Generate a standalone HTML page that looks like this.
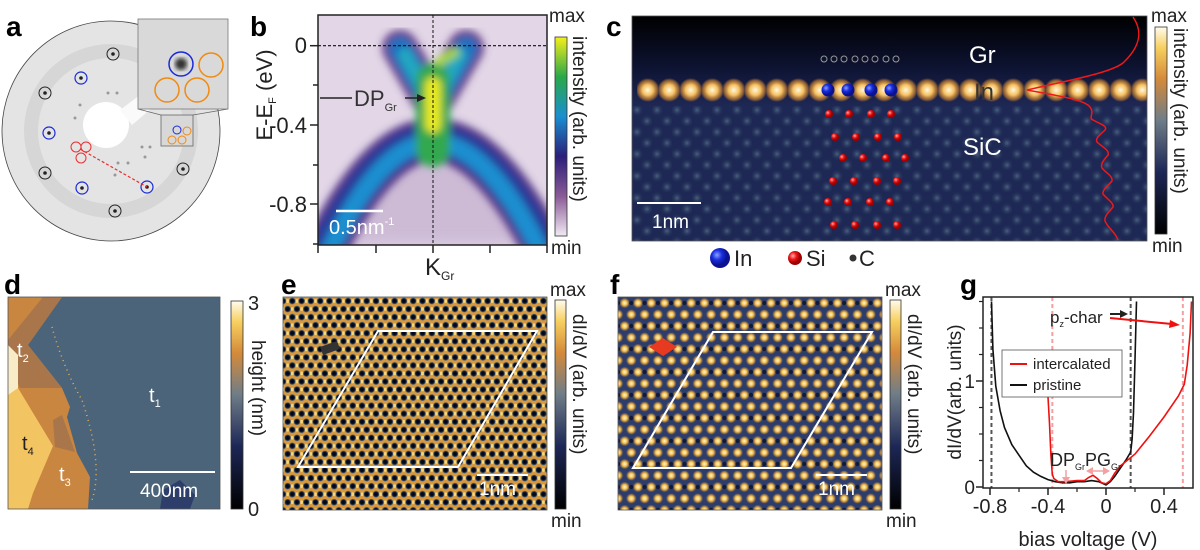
<!DOCTYPE html>
<html><head><meta charset="utf-8"><style>
body{margin:0;background:#fff;}
svg{display:block;font-family:"Liberation Sans",Arial,sans-serif;}
</style></head><body>
<svg id="fig" width="1200" height="550" viewBox="0 0 1200 550">
<defs>
<filter id="blur2"><feGaussianBlur stdDeviation="2"/></filter>
<filter id="blur4"><feGaussianBlur stdDeviation="4"/></filter>
<filter id="blur7"><feGaussianBlur stdDeviation="7"/></filter>
<linearGradient id="cbB" x1="0" y1="1" x2="0" y2="0">
<stop offset="0" stop-color="#f1eaf3"/><stop offset="0.2" stop-color="#8a5a97"/><stop offset="0.4" stop-color="#2a1f7a"/><stop offset="0.6" stop-color="#1a8fd0"/><stop offset="0.8" stop-color="#2aa84a"/><stop offset="1" stop-color="#f5ef1a"/></linearGradient>
<linearGradient id="cbC" x1="0" y1="1" x2="0" y2="0">
<stop offset="0" stop-color="#000"/><stop offset="0.3" stop-color="#1d2756"/><stop offset="0.55" stop-color="#6f7d88"/><stop offset="0.75" stop-color="#d48a3a"/><stop offset="0.9" stop-color="#f7d060"/><stop offset="1" stop-color="#fffbee"/></linearGradient>
<radialGradient id="bead"><stop offset="0" stop-color="#fff8e0"/><stop offset="0.45" stop-color="#f5c060"/><stop offset="0.8" stop-color="#c07a30" stop-opacity="0.7"/><stop offset="1" stop-color="#c07a30" stop-opacity="0"/></radialGradient>
<radialGradient id="blueS" cx="0.35" cy="0.35"><stop offset="0" stop-color="#8aa0ff"/><stop offset="0.5" stop-color="#1a2ee0"/><stop offset="1" stop-color="#0a1290"/></radialGradient>
<radialGradient id="redS" cx="0.35" cy="0.35"><stop offset="0" stop-color="#ffb0b0"/><stop offset="0.5" stop-color="#f01a1a"/><stop offset="1" stop-color="#a00000"/></radialGradient>
<radialGradient id="hole"><stop offset="0" stop-color="#000"/><stop offset="0.55" stop-color="#0a0f2a"/><stop offset="0.8" stop-color="#3a5670"/><stop offset="1" stop-color="#3a5670" stop-opacity="0"/></radialGradient>
<radialGradient id="spot"><stop offset="0" stop-color="#fff6d0"/><stop offset="0.45" stop-color="#f3c050"/><stop offset="0.8" stop-color="#b07a38" stop-opacity="0.6"/><stop offset="1" stop-color="#2a3a6a" stop-opacity="0"/></radialGradient>
<radialGradient id="sicBlob"><stop offset="0" stop-color="#4a6280"/><stop offset="1" stop-color="#1c2552" stop-opacity="0"/></radialGradient>
<pattern id="patE" width="9.3" height="16.1" patternUnits="userSpaceOnUse" x="283" y="297">
<rect width="9.3" height="16.1" fill="#d8983e"/>
<circle cx="4.65" cy="4" r="1.8" fill="#f8d878"/>
<circle cx="0" cy="12" r="1.8" fill="#f8d878"/><circle cx="9.3" cy="12" r="1.8" fill="#f8d878"/>
<circle cx="0" cy="4" r="3.6" fill="url(#hole)"/><circle cx="9.3" cy="4" r="3.6" fill="url(#hole)"/>
<circle cx="4.65" cy="12.05" r="3.6" fill="url(#hole)"/>
</pattern>
<pattern id="patF" width="13.3" height="23" patternUnits="userSpaceOnUse" x="618" y="297">
<rect width="13.3" height="23" fill="#2c3d6c"/>
<circle cx="6.65" cy="6" r="5.5" fill="url(#spot)"/>
<circle cx="0" cy="17.5" r="5.5" fill="url(#spot)"/><circle cx="13.3" cy="17.5" r="5.5" fill="url(#spot)"/>
<circle cx="0" cy="6" r="2.2" fill="#111a38"/><circle cx="13.3" cy="6" r="2.2" fill="#111a38"/>
</pattern>
<pattern id="patC" width="20" height="22" patternUnits="userSpaceOnUse" x="632" y="104">
<rect width="20" height="22" fill="#1e2854"/>
<circle cx="5" cy="6" r="7" fill="url(#sicBlob)"/>
<circle cx="15" cy="17" r="7" fill="url(#sicBlob)"/>
</pattern>
<pattern id="patBead" width="21.5" height="30" patternUnits="userSpaceOnUse" x="637" y="75">
<circle cx="10.75" cy="15" r="12" fill="url(#bead)"/>
</pattern>
<linearGradient id="cTop" x1="0" y1="0" x2="0" y2="1">
<stop offset="0" stop-color="#000"/><stop offset="0.55" stop-color="#0d1230"/><stop offset="1" stop-color="#1e2854"/></linearGradient>
</defs>

<!-- ===== Panel a ===== -->
<g>
<text x="6" y="36" font-size="28" font-weight="bold">a</text>
<ellipse cx="111" cy="131" rx="109" ry="110" fill="#e4e4e4" stroke="#444" stroke-width="0.8"/>
<ellipse cx="111" cy="131" rx="80" ry="80" fill="none" stroke="#d6d6d6" stroke-width="14"/>
<circle cx="106" cy="125" r="23" fill="#fff"/>
<path d="M120,110 L140,95 L152,108 L132,125 Z" fill="#fafafa"/>
<g fill="#999">
<circle cx="108" cy="93" r="1.5"/><circle cx="117" cy="93" r="1.5"/><circle cx="80" cy="105" r="1.5"/><circle cx="75" cy="118" r="1.5"/><circle cx="142" cy="147" r="1.5"/><circle cx="150" cy="147" r="1.5"/><circle cx="118" cy="163" r="1.5"/><circle cx="128" cy="163" r="1.5"/><circle cx="145" cy="157" r="1.5"/><circle cx="115" cy="175" r="1.5"/></g>
<g fill="none" stroke="#222" stroke-width="1"><circle cx="113" cy="54" r="6"/><circle cx="45" cy="93" r="6"/><circle cx="45" cy="173" r="6"/><circle cx="115" cy="211" r="6"/><circle cx="183" cy="169" r="6"/></g>
<g fill="#222"><circle cx="113" cy="54" r="1.8"/><circle cx="45" cy="93" r="1.8"/><circle cx="45" cy="173" r="1.8"/><circle cx="115" cy="211" r="1.8"/><circle cx="183" cy="169" r="1.8"/><circle cx="81" cy="78" r="1.8"/><circle cx="49" cy="133" r="1.8"/><circle cx="82" cy="188" r="1.8"/><circle cx="147" cy="187" r="1.8"/><circle cx="177" cy="130" r="1.8"/></g>
<g fill="none" stroke="#1a2ad8" stroke-width="1.2"><circle cx="81" cy="78" r="6"/><circle cx="49" cy="133" r="6"/><circle cx="82" cy="188" r="6"/><circle cx="147" cy="187" r="6"/></g>
<g fill="none" stroke="#e83030" stroke-width="1"><circle cx="76" cy="147" r="5"/><circle cx="86" cy="147" r="5"/><circle cx="81" cy="158" r="5"/></g>
<line x1="80" y1="149" x2="147" y2="187" stroke="#e83030" stroke-width="1.2" stroke-dasharray="3,2"/>
<rect x="161" y="115" width="32" height="31" fill="#d8d8d8" stroke="#666" stroke-width="0.8"/>
<circle cx="177" cy="130" r="4" fill="none" stroke="#1a2ad8" stroke-width="1"/>
<g fill="none" stroke="#f08a10" stroke-width="1"><circle cx="187" cy="131" r="4"/><circle cx="172" cy="140" r="4"/><circle cx="182" cy="140" r="4"/></g>
<path d="M138,109 L161,115 M228,109 L193,115" stroke="#666" stroke-width="0.8"/>
<rect x="138" y="19" width="90" height="90" fill="#d9d9d9" stroke="#777" stroke-width="0.8"/>
<circle cx="181" cy="64" r="6" fill="#333" filter="url(#blur2)"/>
<circle cx="181" cy="64" r="12" fill="none" stroke="#1a2ad8" stroke-width="1.5"/>
<g fill="none" stroke="#f08a10" stroke-width="1.5"><circle cx="211" cy="65" r="12"/><circle cx="167" cy="90" r="12"/><circle cx="197" cy="90" r="12"/></g>
</g>

<!-- ===== Panel b ===== -->
<g>
<text x="250" y="36" font-size="28" font-weight="bold">b</text>
<clipPath id="clipB"><rect x="318" y="15" width="229" height="230"/></clipPath>
<g clip-path="url(#clipB)">
<rect x="318" y="15" width="229" height="230" fill="#e2d6e7"/>
<path d="M330,245 Q432,60 540,245 Z" fill="#cdbbd6" filter="url(#blur7)"/>
<g fill="none" stroke-linecap="round" filter="url(#blur4)">
<path d="M400,48 L433,105 L466,48" stroke="#6a3f88" stroke-width="36"/>
<path d="M325,250 Q432,30 545,250" stroke="#5a3a88" stroke-width="44"/>
<path d="M325,250 Q432,30 545,250" stroke="#263a9a" stroke-width="32"/>
<path d="M400,48 L433,105 L466,48" stroke="#1c6fc0" stroke-width="24"/>
<path d="M330,250 Q432,35 540,250" stroke="#1a8fd0" stroke-width="18"/>
<path d="M405,55 L433,105 L460,55" stroke="#20a8c0" stroke-width="14"/>
<path d="M433,80 L433,150" stroke="#30a850" stroke-width="34"/>
<path d="M433,85 L433,125" stroke="#e8ea20" stroke-width="16"/>
<path d="M440,62 L455,52" stroke="#a8d830" stroke-width="9"/>
</g>
</g>
<rect x="318" y="15" width="229" height="230" fill="none" stroke="#222" stroke-width="1.5"/>
<line x1="318" y1="45.7" x2="547" y2="45.7" stroke="#111" stroke-width="1.2" stroke-dasharray="3,2"/>
<line x1="433" y1="15" x2="433" y2="245" stroke="#111" stroke-width="1" stroke-dasharray="3,2"/>
<g stroke="#222" stroke-width="1.5"><line x1="310" y1="45.7" x2="318" y2="45.7"/><line x1="310" y1="125" x2="318" y2="125"/><line x1="310" y1="204" x2="318" y2="204"/><line x1="313" y1="85" x2="318" y2="85"/><line x1="313" y1="165" x2="318" y2="165"/><line x1="313" y1="244" x2="318" y2="244"/>
<line x1="318" y1="245" x2="318" y2="253"/><line x1="376" y1="245" x2="376" y2="253"/><line x1="433" y1="245" x2="433" y2="253"/><line x1="490" y1="245" x2="490" y2="253"/><line x1="547" y1="245" x2="547" y2="253"/></g>
<g font-size="22" fill="#222" text-anchor="end"><text x="307" y="53">0</text><text x="307" y="133">-0.4</text><text x="307" y="212">-0.8</text></g>
<text transform="translate(272,95) rotate(-90)" font-size="22" text-anchor="middle" fill="#222">E-E<tspan font-size="11" dy="4">F</tspan><tspan dy="-4"> (eV)</tspan></text>
<text x="425" y="275" font-size="24" fill="#222">K<tspan font-size="12" dy="5">Gr</tspan></text>
<line x1="320" y1="98" x2="352" y2="98" stroke="#222" stroke-width="1.5"/>
<text x="354" y="106" font-size="22" fill="#333">DP<tspan font-size="11" dy="5">Gr</tspan></text>
<path d="M405,98 L420,98" stroke="#222" stroke-width="1.5"/><path d="M426,98 L417,94 L417,102 Z" fill="#222"/>
<line x1="336" y1="211" x2="383" y2="211" stroke="#fff" stroke-width="2.5"/>
<text x="329" y="234" font-size="20" fill="#fff">0.5nm<tspan font-size="11" dy="-9">-1</tspan></text>
<rect x="555" y="37" width="12" height="199" fill="url(#cbB)" stroke="#333" stroke-width="0.8"/>
<text x="549" y="22" font-size="19" fill="#222">max</text><text x="551" y="254" font-size="19" fill="#222">min</text>
<text transform="translate(573,36) rotate(90)" font-size="19" fill="#222">intensity (arb. units)</text>
</g>

<!-- ===== Panel c ===== -->
<g>
<text x="606" y="36" font-size="28" font-weight="bold">c</text>
<clipPath id="clipC"><rect x="632" y="16" width="515" height="225"/></clipPath>
<g clip-path="url(#clipC)">
<rect x="632" y="100" width="515" height="141" fill="url(#patC)"/>
<rect x="632" y="16" width="515" height="90" fill="url(#cTop)"/>
<rect x="637" y="75" width="520" height="30" fill="url(#patBead)"/>
</g>
<rect x="632" y="16" width="515" height="225" fill="none" stroke="#555" stroke-width="0.8"/>
<g fill="none" stroke="#999" stroke-width="1">
<circle cx="824" cy="59" r="3"/><circle cx="834" cy="59" r="3"/><circle cx="844" cy="59" r="3"/><circle cx="855" cy="59" r="3"/><circle cx="865" cy="59" r="3"/><circle cx="875" cy="59" r="3"/><circle cx="886" cy="59" r="3"/><circle cx="896" cy="59" r="3"/></g>
<g fill="url(#blueS)"><circle cx="828" cy="90" r="6.5"/><circle cx="848" cy="90" r="6.5"/><circle cx="871" cy="90" r="6.5"/><circle cx="891" cy="90" r="6.5"/></g>
<g fill="url(#redS)">
<circle cx="829" cy="114" r="4"/><circle cx="849" cy="114" r="4"/><circle cx="871" cy="114" r="4"/><circle cx="891" cy="114" r="4"/>
<circle cx="835" cy="137" r="4"/><circle cx="856" cy="137" r="4"/><circle cx="878" cy="137" r="4"/><circle cx="898" cy="137" r="4"/>
<circle cx="843" cy="158" r="4"/><circle cx="863" cy="158" r="4"/><circle cx="886" cy="158" r="4"/><circle cx="905" cy="158" r="4"/>
<circle cx="833" cy="181" r="4"/><circle cx="854" cy="181" r="4"/><circle cx="877" cy="181" r="4"/><circle cx="897" cy="181" r="4"/>
<circle cx="828" cy="202" r="4"/><circle cx="848" cy="202" r="4"/><circle cx="870" cy="202" r="4"/><circle cx="890" cy="202" r="4"/>
<circle cx="834" cy="225" r="4"/><circle cx="855" cy="225" r="4"/><circle cx="877" cy="225" r="4"/><circle cx="897" cy="225" r="4"/></g>
<text x="969" y="63" font-size="24" fill="#fff">Gr</text>
<text x="974" y="100" font-size="24" fill="#333">In</text>
<text x="963" y="155" font-size="24" fill="#fff">SiC</text>
<line x1="637" y1="203" x2="701" y2="203" stroke="#fff" stroke-width="2"/>
<text x="652" y="228" font-size="19" fill="#fff">1nm</text>
<path d="M1133,17 C1142,30 1142,45 1123,63 C1110,73 1070,80 1027,90 C1060,96 1085,100 1090,107 C1095,113 1088,118 1093,120 C1100,124 1108,126 1105,130 C1100,135 1095,138 1097,142 C1102,147 1110,150 1108,155 C1104,160 1100,164 1102,168 C1106,173 1113,176 1112,181 C1108,186 1102,190 1103,194 C1107,199 1114,203 1113,207 C1109,212 1104,216 1105,221 C1108,228 1116,233 1118,240" fill="none" stroke="#f01818" stroke-width="1.5"/>
<rect x="1155" y="27" width="12" height="207" fill="url(#cbC)" stroke="#333" stroke-width="0.8"/>
<text x="1151" y="22" font-size="19" fill="#222">max</text><text x="1152" y="252" font-size="19" fill="#222">min</text>
<text transform="translate(1174,28) rotate(90)" font-size="19" fill="#222">intensity (arb. units)</text>
<g>
<circle cx="720" cy="258" r="10" fill="url(#blueS)"/><text x="734" y="266" font-size="22" fill="#222">In</text>
<circle cx="795" cy="258" r="7" fill="url(#redS)"/><text x="806" y="266" font-size="22" fill="#222">Si</text>
<circle cx="853" cy="258" r="3.5" fill="#333"/><text x="859" y="266" font-size="22" fill="#222">C</text>
</g>
</g>

<!-- ===== Panel d ===== -->
<g>
<text x="4" y="294" font-size="28" font-weight="bold">d</text>
<clipPath id="clipD"><rect x="8" y="297" width="212" height="212"/></clipPath>
<g clip-path="url(#clipD)">
<rect x="8" y="297" width="212" height="212" fill="#c98640"/>
<polygon points="62,297 220,297 220,509 88,509 90,477 77,453 67,417 70,407 62,388 28,345" fill="#4b6479"/>
<polygon points="160,509 163,490 180,480 195,495 190,509" fill="#2e3e6a"/>
<polygon points="43,297 62,297 28,345 62,388 20,388 8,360 8,340" fill="#a8764a"/>
<polygon points="8,345 18,355 18,392 8,395" fill="#f8ecc8"/>
<polygon points="8,395 18,388 53,446 33,493 28,509 8,509" fill="#f3c462"/>
<polygon points="53,420 62,415 75,452 55,447" fill="#a8764a"/>
<path d="M52,327 C58,350 70,380 82,400 C92,430 102,470 92,500" fill="none" stroke="#e8b050" stroke-width="1.5" stroke-dasharray="1,4"/>
</g>
<rect x="8" y="297" width="212" height="212" fill="none" stroke="#555" stroke-width="0.8"/>
<text x="17" y="357" font-size="20" fill="#fff">t<tspan font-size="11" dy="5">2</tspan></text>
<text x="149" y="402" font-size="20" fill="#fff">t<tspan font-size="11" dy="5">1</tspan></text>
<text x="22" y="450" font-size="20" fill="#222">t<tspan font-size="11" dy="5">4</tspan></text>
<text x="59" y="481" font-size="20" fill="#fff">t<tspan font-size="11" dy="5">3</tspan></text>
<line x1="130" y1="472" x2="215" y2="472" stroke="#fff" stroke-width="2"/>
<text x="140" y="497" font-size="19" fill="#fff">400nm</text>
<rect x="231" y="301" width="12" height="208" fill="url(#cbC)" stroke="#333" stroke-width="0.8"/>
<text x="248" y="310" font-size="20" fill="#222">3</text><text x="248" y="516" font-size="20" fill="#222">0</text>
<text transform="translate(252,340) rotate(90)" font-size="19" fill="#222">height (nm)</text>
</g>

<!-- ===== Panel e ===== -->
<g>
<text x="281" y="294" font-size="28" font-weight="bold">e</text>
<rect x="283" y="297" width="264" height="213" fill="url(#patE)" stroke="#555" stroke-width="0.8"/>
<polygon points="298,467 458,467 537,331 378,331" fill="none" stroke="#fff" stroke-width="2"/>
<polygon points="320,347 337,341 340,349 323,355" fill="#333"/>
<line x1="477" y1="475" x2="528" y2="475" stroke="#fff" stroke-width="2"/>
<text x="479" y="495" font-size="19" fill="#fff">1nm</text>
<rect x="555" y="300" width="11" height="209" fill="url(#cbC)" stroke="#333" stroke-width="0.8"/>
<text x="550" y="296" font-size="19" fill="#222">max</text><text x="551" y="527" font-size="19" fill="#222">min</text>
<text transform="translate(573,314) rotate(90)" font-size="19" fill="#222">dI/dV (arb. units)</text>
</g>

<!-- ===== Panel f ===== -->
<g>
<text x="610" y="294" font-size="28" font-weight="bold">f</text>
<rect x="618" y="297" width="264" height="213" fill="url(#patF)" stroke="#555" stroke-width="0.8"/>
<polygon points="633,468 791,468 872,332 713,332" fill="none" stroke="#fff" stroke-width="2"/>
<polygon points="649,347 663,338 677,347 663,356" fill="#e83a20"/>
<line x1="816" y1="475" x2="867" y2="475" stroke="#fff" stroke-width="2"/>
<text x="818" y="495" font-size="19" fill="#fff">1nm</text>
<rect x="890" y="300" width="11" height="209" fill="url(#cbC)" stroke="#333" stroke-width="0.8"/>
<text x="885" y="296" font-size="19" fill="#222">max</text><text x="886" y="527" font-size="19" fill="#222">min</text>
<text transform="translate(908,314) rotate(90)" font-size="19" fill="#222">dI/dV (arb. units)</text>
</g>

<!-- ===== Panel g ===== -->
<g id="panelG">
<text x="960" y="294" font-size="28" font-weight="bold">g</text>
</g>
</svg>
<script>
const xTicks = [-0.8, -0.4, 0, 0.4];
const xMinor = [-0.6, -0.2, 0.2];
const yTicks = [0, 1];
const yMinor = [0.25, 0.5, 0.75, 1.25, 1.5, 1.75];
const pristineV = [-0.79, -0.78, -0.76, -0.73, -0.7, -0.65, -0.6, -0.55, -0.5, -0.45, -0.4, -0.35, -0.3, -0.25, -0.2, -0.15, -0.1, -0.05, 0, 0.03, 0.06, 0.1, 0.14, 0.17, 0.18, 0.19, 0.2, 0.21];
const pristineG = [1.75, 1.3, 0.95, 0.72, 0.56, 0.4, 0.3, 0.2, 0.14, 0.1, 0.07, 0.05, 0.04, 0.04, 0.05, 0.05, 0.06, 0.05, 0.02, 0.05, 0.1, 0.18, 0.26, 0.33, 0.45, 0.7, 1.2, 1.75];
const intercV = [-0.4, -0.39, -0.38, -0.37, -0.36, -0.33, -0.28, -0.2, -0.15, -0.12, -0.09, -0.06, -0.03, 0, 0.03, 0.06, 0.1, 0.2, 0.3, 0.4, 0.5, 0.54, 0.56, 0.58, 0.59];
const intercG = [0.85, 0.6, 0.3, 0.12, 0.08, 0.05, 0.05, 0.06, 0.06, 0.09, 0.11, 0.08, 0.04, 0.03, 0.06, 0.13, 0.2, 0.31, 0.48, 0.66, 0.86, 0.97, 1.15, 1.45, 1.75];
const blackEdges = [-0.79, 0.17];
const pinkEdges = [-0.37, 0.53];
const ns = 'http://www.w3.org/2000/svg';
const G = document.getElementById('panelG');
const X0 = 983, X1 = 1193, Y0 = 297, Y1 = 488;
function sx(v){ return 1106 + v * 145; }
function sy(v){ return 487 - v * 106; }
function mk(tag, attrs, parent){ const e = document.createElementNS(ns, tag); for (const k in attrs) e.setAttribute(k, attrs[k]); (parent||G).appendChild(e); return e; }
const clip = mk('clipPath', {id:'clipG'});
mk('rect', {x:X0, y:Y0, width:X1-X0, height:Y1-Y0}, clip);
blackEdges.forEach(v => {
  const l = mk('line', {x1:sx(v), x2:sx(v), y1:Y0, y2:Y1, stroke:'#555', 'stroke-width':2, 'stroke-dasharray':'4,3'});
  
  
});
pinkEdges.forEach(v => {
  const l = mk('line', {x1:sx(v), x2:sx(v), y1:Y0, y2:Y1, stroke:'#f4a0a0', 'stroke-width':2, 'stroke-dasharray':'4,3'});
  
  
});
function pathFrom(xs, ys){ return xs.map((v,i)=>(i?'L':'M')+sx(v).toFixed(1)+','+sy(ys[i]).toFixed(1)).join(' '); }
const pb = mk('path', {d:pathFrom(pristineV, pristineG), fill:'none', stroke:'#111', 'stroke-width':1.6, 'clip-path':'url(#clipG)'});


const pr = mk('path', {d:pathFrom(intercV, intercG), fill:'none', stroke:'#f01010', 'stroke-width':1.6, 'clip-path':'url(#clipG)'});


const frame = mk('rect', {x:X0, y:Y0, width:X1-X0, height:Y1-Y0, fill:'none', stroke:'#222', 'stroke-width':1.5});


xTicks.forEach(v => {
  mk('line', {x1:sx(v), x2:sx(v), y1:Y1, y2:Y1+7, stroke:'#222', 'stroke-width':1.5});
  const t = mk('text', {x:sx(v), y:Y1+25, 'font-size':20, 'text-anchor':'middle', fill:'#222'});
  t.textContent = (v===0?'0':String(v));
  
  
});
xMinor.forEach(v => mk('line', {x1:sx(v), x2:sx(v), y1:Y1, y2:Y1+4, stroke:'#222', 'stroke-width':1.2}));
yTicks.forEach(v => {
  mk('line', {x1:X0-7, x2:X0, y1:sy(v), y2:sy(v), stroke:'#222', 'stroke-width':1.5});
  const t = mk('text', {x:X0-8, y:sy(v)+7, 'font-size':19, 'text-anchor':'end', fill:'#222'});
  t.textContent = String(v);
  
  
});
yMinor.forEach(v => mk('line', {x1:X0-4, x2:X0, y1:sy(v), y2:sy(v), stroke:'#222', 'stroke-width':1.2}));
const xt = mk('text', {x:1088, y:546, 'font-size':20, 'text-anchor':'middle', fill:'#222'});
xt.textContent = 'bias voltage (V)';


const yt = mk('text', {transform:'translate(961,392) rotate(-90)', 'font-size':19, 'text-anchor':'middle', fill:'#222'});
yt.textContent = 'dI/dV(arb. units)';


G.insertAdjacentHTML('beforeend',
'<g><rect x="1002" y="350" width="120" height="47" fill="#fff" stroke="#555" stroke-width="0.8"/>' +
'<line x1="1010" y1="364" x2="1027" y2="364" stroke="#f01010" stroke-width="2"/><text x="1033" y="369" font-size="15" fill="#222">intercalated</text>' +
'<line x1="1010" y1="385" x2="1027" y2="385" stroke="#111" stroke-width="2"/><text x="1033" y="390" font-size="15" fill="#222">pristine</text></g>' +
'<text x="1050" y="323" font-size="17" fill="#222">p<tspan font-size="9" dy="4">z</tspan><tspan dy="-4">-char</tspan></text>' +
'<line x1="1110" y1="314" x2="1122" y2="314" stroke="#222" stroke-width="2"/><path d="M1128,314 L1120,310 L1120,318 Z" fill="#222"/>' +
'<line x1="1110" y1="318" x2="1172" y2="324" stroke="#f01010" stroke-width="2"/><path d="M1180,325 L1170,320 L1169,328 Z" fill="#f01010"/>' +
'<text x="1050" y="466" font-size="18" fill="#222">DP<tspan font-size="9" dy="4">Gr</tspan><tspan dy="-4">PG</tspan><tspan font-size="9" dy="4">Gr</tspan></text>' +
'<line x1="1066" y1="470" x2="1066" y2="479" stroke="#f4a0a0" stroke-width="1.5"/><path d="M1066,484 L1062,477 L1070,477 Z" fill="#f4a0a0"/>' +
'<line x1="1090" y1="471" x2="1106" y2="471" stroke="#f4a0a0" stroke-width="1.5"/><path d="M1086,471 L1093,467 L1093,475 Z M1110,471 L1103,467 L1103,475 Z" fill="#f4a0a0"/>');
</script>
</body></html>
